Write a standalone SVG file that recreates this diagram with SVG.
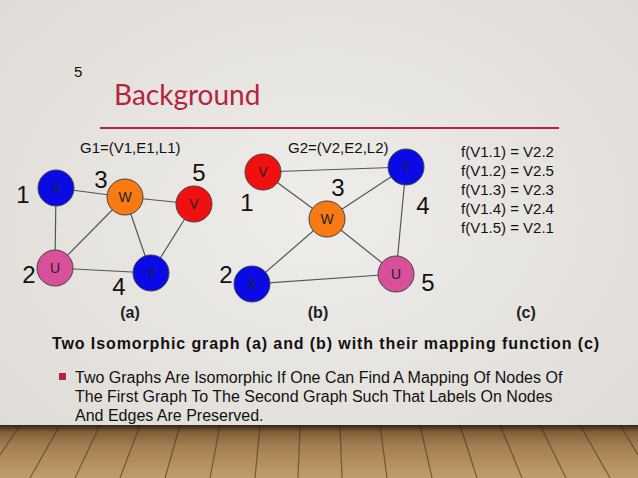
<svg xmlns="http://www.w3.org/2000/svg" width="638" height="478" viewBox="0 0 638 478">
<defs>
<radialGradient id="bg" cx="0.5" cy="0.45" r="0.7"><stop offset="0" stop-color="#efedea"/><stop offset="1" stop-color="#dedbd6"/></radialGradient>
<linearGradient id="wood" x1="0" y1="0" x2="0" y2="1"><stop offset="0" stop-color="#6e4f2e"/><stop offset="0.4" stop-color="#a57f52"/><stop offset="1" stop-color="#c29d6c"/></linearGradient>
<linearGradient id="sh" x1="0" y1="0" x2="0" y2="1"><stop offset="0" stop-color="#000" stop-opacity="0.5"/><stop offset="1" stop-color="#000" stop-opacity="0"/></linearGradient>
</defs>
<style>
.e{stroke:#555;stroke-width:1.2}
.n{stroke:#444;stroke-width:1}
.nl{font-family:"Liberation Sans",Arial,sans-serif;fill:#222;text-anchor:middle}
.num{font-family:"Liberation Sans",Arial,sans-serif;fill:#111;text-anchor:middle}
.t{font-family:"Liberation Sans",Arial,sans-serif;fill:#111}
.pl{stroke:#4a3018;stroke-width:1.2;opacity:0.6}
</style>
<rect width="638" height="478" fill="url(#bg)"/>
<g id="floor">
<rect y="425" width="638" height="53" fill="url(#wood)"/>
<path class="pl" d="M20 425 L0 455 M60 425 L30 478 M100 425 L75 478 M140 425 L120 478 M180 425 L165 478 M220 425 L210 478 M260 425 L255 478 M300 425 L298 478 M340 425 L342 478 M380 425 L387 478 M420 425 L432 478 M460 425 L477 478 M500 425 L522 478 M540 425 L566 478 M580 425 L610 478 M620 425 L638 455"/>
<rect y="425" width="638" height="7" fill="url(#sh)"/>
</g>
<text x="74" y="77" class="t" font-size="15">5</text>
<text x="114" y="105" font-family="'Gill Sans','Lato','Open Sans',sans-serif" font-size="28" fill="#b5243e">Background</text>
<line x1="100" y1="128" x2="559" y2="128" stroke="#b5243e" stroke-width="2"/>
<text x="80" y="153" class="t" font-size="15">G1=(V1,E1,L1)</text>
<text x="288" y="153" class="t" font-size="15">G2=(V2,E2,L2)</text>
<g id="connectors">
<line class="e" x1="56" y1="188" x2="125" y2="197"/>
<line class="e" x1="125" y1="197" x2="194" y2="204"/>
<line class="e" x1="56" y1="188" x2="55" y2="268"/>
<line class="e" x1="55" y1="268" x2="125" y2="197"/>
<line class="e" x1="125" y1="197" x2="151" y2="273"/>
<line class="e" x1="194" y1="204" x2="151" y2="273"/>
<line class="e" x1="55" y1="268" x2="151" y2="273"/>
<line class="e" x1="263" y1="172" x2="406" y2="167"/>
<line class="e" x1="263" y1="172" x2="327" y2="219"/>
<line class="e" x1="327" y1="219" x2="406" y2="167"/>
<line class="e" x1="327" y1="219" x2="252" y2="284"/>
<line class="e" x1="327" y1="219" x2="396" y2="274"/>
<line class="e" x1="252" y1="284" x2="396" y2="274"/>
<line class="e" x1="406" y1="167" x2="396" y2="274"/>
</g>
<g id="a_X"><circle class="n" cx="56" cy="188" r="18" fill="#0a0ae6"/><text class="nl" font-size="14" x="56" y="193">X</text></g>
<g id="a_W"><circle class="n" cx="125" cy="197" r="18" fill="#f77b12"/><text class="nl" font-size="14" x="125" y="202">W</text></g>
<g id="a_V"><circle class="n" cx="194" cy="204" r="18" fill="#f01010"/><text class="nl" font-size="14" x="194" y="209">V</text></g>
<g id="a_U"><circle class="n" cx="55" cy="268" r="18" fill="#d9509a"/><text class="nl" font-size="14" x="55" y="273">U</text></g>
<g id="a_Y"><circle class="n" cx="151" cy="273" r="18" fill="#0a0ae6"/><text class="nl" font-size="14" x="151" y="278">Y</text></g>
<g id="b_V"><circle class="n" cx="263" cy="172" r="18" fill="#f01010"/><text class="nl" font-size="14" x="263" y="177">V</text></g>
<g id="b_Y"><circle class="n" cx="406" cy="167" r="18" fill="#0a0ae6"/><text class="nl" font-size="14" x="406" y="172">Y</text></g>
<g id="b_W"><circle class="n" cx="327" cy="219" r="18" fill="#f77b12"/><text class="nl" font-size="14" x="327" y="224">W</text></g>
<g id="b_X"><circle class="n" cx="252" cy="284" r="18" fill="#0a0ae6"/><text class="nl" font-size="14" x="252" y="289">X</text></g>
<g id="b_U"><circle class="n" cx="396" cy="274" r="18" fill="#d9509a"/><text class="nl" font-size="14" x="396" y="279">U</text></g>
<g id="labels" font-size="24">
<text class="num" x="23" y="203">1</text>
<text class="num" x="101" y="188">3</text>
<text class="num" x="199" y="181">5</text>
<text class="num" x="29" y="283">2</text>
<text class="num" x="119" y="295">4</text>
<text class="num" x="247" y="211">1</text>
<text class="num" x="338" y="196">3</text>
<text class="num" x="423" y="214">4</text>
<text class="num" x="226" y="283">2</text>
<text class="num" x="428" y="291">5</text>
</g>
<g class="t" font-size="15">
<text x="461" y="157">f(V1.1) = V2.2</text>
<text x="461" y="176">f(V1.2) = V2.5</text>
<text x="461" y="195">f(V1.3) = V2.3</text>
<text x="461" y="214">f(V1.4) = V2.4</text>
<text x="461" y="233">f(V1.5) = V2.1</text>
</g>
<text x="130" y="318" class="nl" font-size="16" font-weight="bold">(a)</text>
<text x="318" y="318" class="nl" font-size="16" font-weight="bold">(b)</text>
<text x="526" y="318" class="nl" font-size="16" font-weight="bold">(c)</text>
<text x="326" y="349" class="t" font-size="16" font-weight="bold" text-anchor="middle" letter-spacing="0.9">Two Isomorphic graph (a) and (b) with their mapping function (c)</text>
<rect x="59" y="373" width="7" height="7" fill="#b5243e"/>
<g class="t" font-size="16">
<text x="75" y="383">Two Graphs Are Isomorphic If One Can Find A Mapping Of Nodes Of</text>
<text x="75" y="402">The First Graph To The Second Graph Such That Labels On Nodes</text>
<text x="75" y="421">And Edges Are Preserved.</text>
</g>
</svg>
